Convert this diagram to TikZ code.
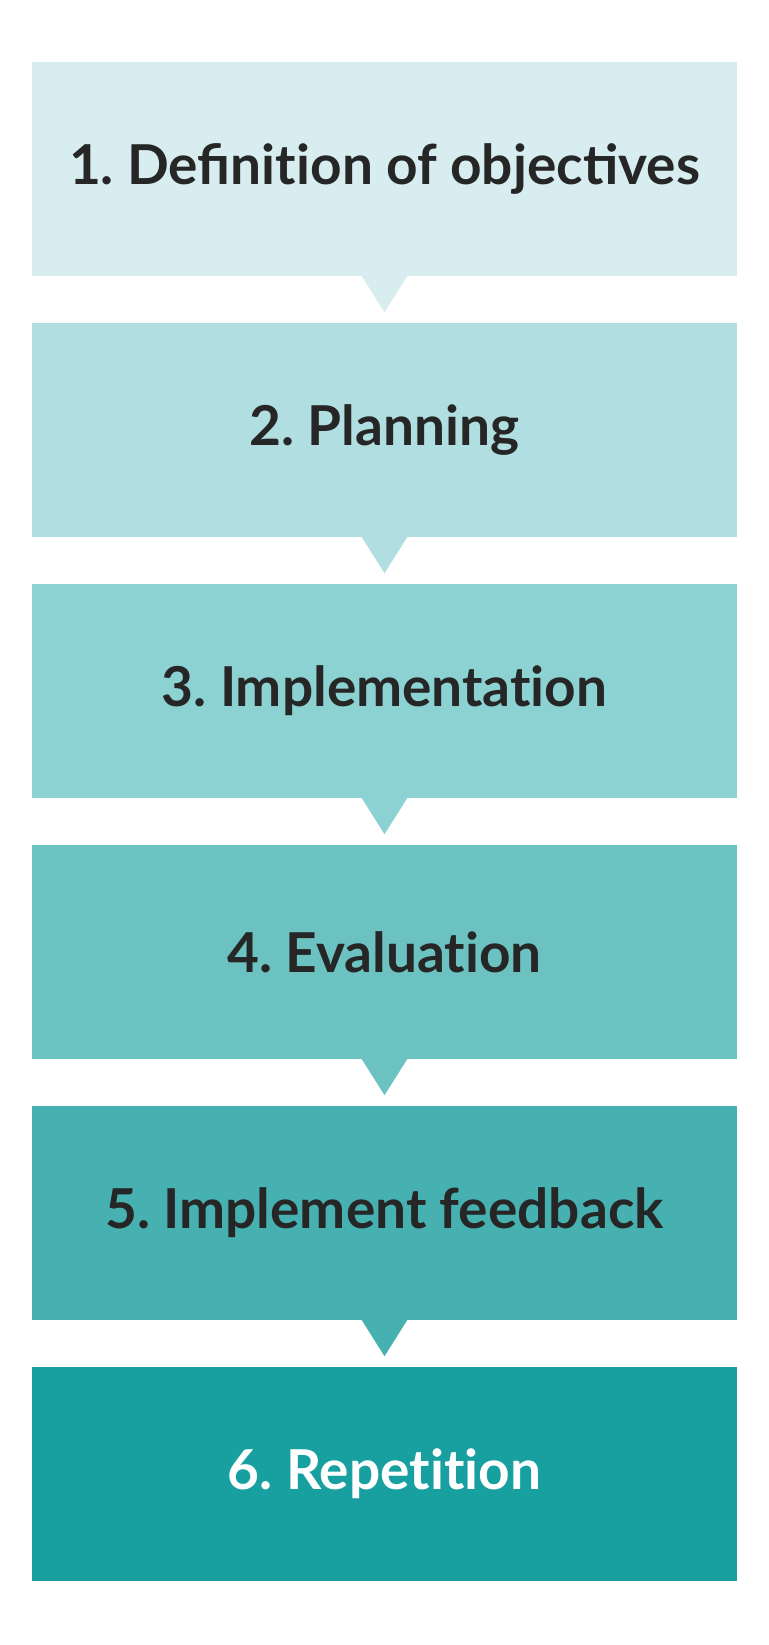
\documentclass[tikz,border=0pt]{standalone}
\usepackage{fontspec}
\setmainfont{Lato}
\usetikzlibrary{calc}
\definecolor{cA}{HTML}{D8EDEF}
\definecolor{cB}{HTML}{B1DFE1}
\definecolor{cC}{HTML}{8DD2D2}
\definecolor{cD}{HTML}{6CC1C1}
\definecolor{cE}{HTML}{47B1B1}
\definecolor{cF}{HTML}{18A0A0}
\definecolor{txt}{HTML}{262626}
\newcommand{\nti}{t\kern0pt i}
\frenchspacing
\begin{document}
\begin{tikzpicture}[x=1pt,y=1pt,
  stepbox/.style={minimum width=705pt,minimum height=214pt,inner sep=0pt,
    text=txt,font=\fontsize{55}{64}\selectfont\bfseries}]
\useasboundingbox[fill=white] (0,0) rectangle (768,-1645);
\node[stepbox,fill=cA] (b1) at (384.5,-169) {1. Defini\nti on of objectives};
\node[stepbox,fill=cB] (b2) at (384.5,-430) {2. Planning};
\node[stepbox,fill=cC] (b3) at (384.5,-691) {3. Implementa\nti on};
\node[stepbox,fill=cD] (b4) at (384.5,-952) {4. Evalua\nti on};
\node[stepbox,fill=cE] (b5) at (384.5,-1213) {5. Implement feedback};
\node[stepbox,fill=cF,text=white] (b6) at (384.5,-1474) {6. Repe\nti\nti on};
\foreach \i/\c in {b1/cA,b2/cB,b3/cC,b4/cD,b5/cE}{
  \fill[\c] ($(\i.south)+(-23,0.5)$) -- ($(\i.south)+(0,-36)$) -- ($(\i.south)+(23,0.5)$) -- cycle;
}
\end{tikzpicture}
\end{document}
